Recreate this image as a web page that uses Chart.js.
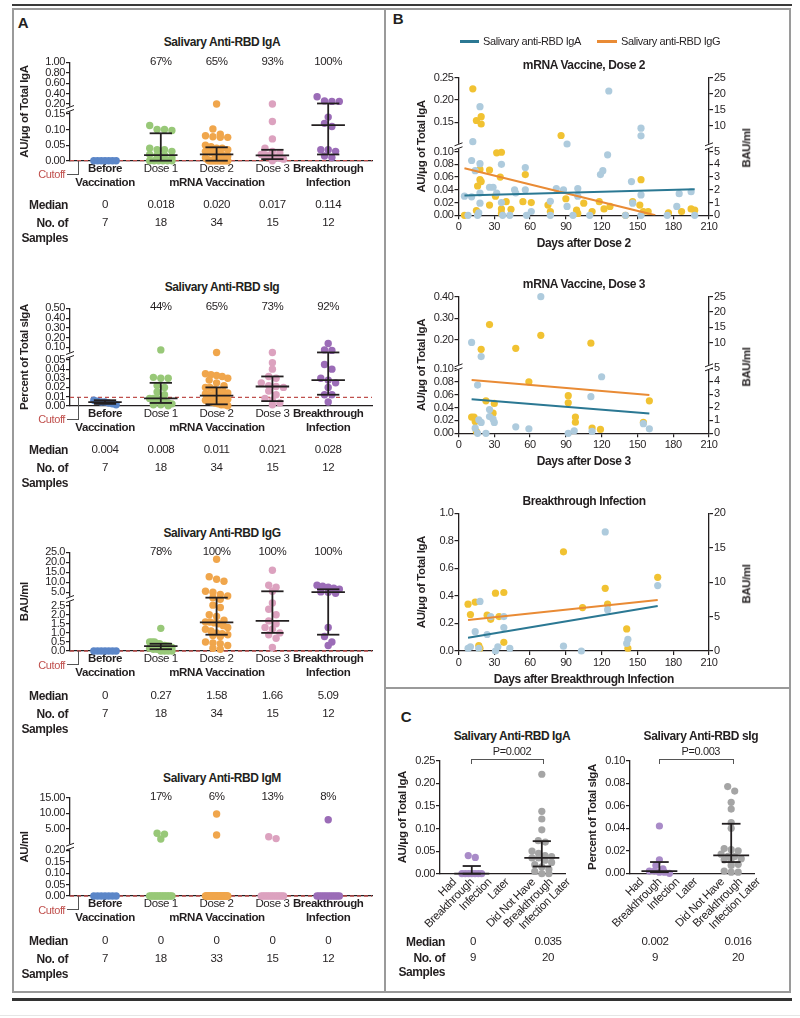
<!DOCTYPE html>
<html>
<head>
<meta charset="utf-8">
<script src="https://cdn.jsdelivr.net/npm/chart.js@4.4.1/dist/chart.umd.min.js"></script>
<style>
  html, body { margin: 0; padding: 0; background: #fff; }
  body { position: relative; width: 800px; height: 1018px; overflow: hidden;
         font-family: 'Liberation Sans Narrow', 'Liberation Sans', Arial, sans-serif; color: #231f20; }
  .lbl { position: absolute; white-space: nowrap; line-height: 1; letter-spacing: -0.4px; }
  .rule { position: absolute; box-sizing: border-box; }
  canvas { position: absolute; }
</style>
</head>
<body>
<script>
// ---------------- Panel A data ----------------
const categoriesA = [['Before', 'Vaccination'], ['Dose 1'], ['Dose 2'], ['Dose 3'], ['Breakthrough', 'Infection']];

const igaValues = [
  [0, 0, 0, 0, 0, 0, 0],
  [0.113, 0.10, 0.10, 0.097, 0.04, 0.035, 0.035, 0.03, 0.02, 0.018, 0.018, 0.01, 0, 0, 0, 0, 0, 0],
  [0.20, 0.102, 0.085, 0.08, 0.077, 0.075, 0.075, 0.05, 0.045, 0.04, 0.04, 0.035, 0.03, 0.03, 0.025, 0.02, 0.02,
   0.02, 0.015, 0.015, 0.01, 0.005, 0, 0, 0, 0, 0, 0, 0, 0, 0, 0, 0, 0],
  [0.20, 0.126, 0.07, 0.04, 0.03, 0.025, 0.02, 0.018, 0.017, 0.015, 0.012, 0.01, 0.008, 0.005, 0],
  [0.34, 0.26, 0.25, 0.25, 0.14, 0.12, 0.11, 0.035, 0.035, 0.03, 0.015, 0.01]
];
const igaMedian = [0, 0.018, 0.020, 0.017, 0.114];
const igaQ1 = [0, 0, 0, 0.005, 0.02];
const igaQ3 = [0, 0.088, 0.043, 0.035, 0.21];
const igaPositive = ['', '67%', '65%', '93%', '100%'];
const igaTicks = [0, 0.05, 0.10, 0.15, 0.20, 0.40, 0.60, 0.80, 1.00];
const igaCutoff = 0;

const sigValues = [
  [0.006, 0.005, 0.004, 0.004, 0.003, 0.002, 0.001],
  [0.09, 0.031, 0.03, 0.03, 0.022, 0.02, 0.015, 0.012, 0.008, 0.008, 0.008, 0.005, 0.004, 0.003, 0.002, 0.001, 0.001, 0],
  [0.08, 0.035, 0.034, 0.033, 0.032, 0.03, 0.028, 0.025, 0.022, 0.02, 0.02, 0.018, 0.016, 0.015, 0.014, 0.013, 0.012,
   0.012, 0.011, 0.011, 0.01, 0.01, 0.009, 0.008, 0.008, 0.007, 0.006, 0.005, 0.004, 0.003, 0.002, 0.001, 0.001, 0],
  [0.08, 0.047, 0.04, 0.032, 0.03, 0.025, 0.022, 0.021, 0.02, 0.016, 0.012, 0.008, 0.006, 0.003, 0.001],
  [0.14, 0.09, 0.088, 0.045, 0.04, 0.03, 0.028, 0.025, 0.02, 0.012, 0.012, 0.004]
];
const sigMedian = [0.004, 0.008, 0.011, 0.021, 0.028];
const sigQ1 = [0.002, 0.003, 0.0015, 0.005, 0.012];
const sigQ3 = [0.006, 0.025, 0.02, 0.032, 0.08];
const sigPositive = ['', '44%', '65%', '73%', '92%'];
const sigTicks = [0, 0.01, 0.02, 0.03, 0.04, 0.05, 0.10, 0.20, 0.30, 0.40, 0.50];
const sigCutoff = 0.009;

const iggValues = [
  [0, 0, 0, 0, 0, 0, 0],
  [1.25, 0.5, 0.5, 0.5, 0.4, 0.4, 0.3, 0.3, 0.28, 0.26, 0.2, 0.15, 0.1, 0.1, 0, 0, 0, 0],
  [21.5, 12.8, 11.5, 10.5, 5.5, 5.0, 4.6, 4.3, 4.0, 3.7, 2.6, 2.4, 2.0, 1.9, 1.7, 1.6, 1.6,
   1.55, 1.5, 1.4, 1.3, 1.2, 1.1, 1.0, 0.95, 0.9, 0.85, 0.8, 0.5, 0.45, 0.4, 0.3, 0.15, 0.1],
  [16, 8.5, 7.5, 5.5, 3.0, 2.3, 2.0, 1.66, 1.5, 1.3, 1.2, 1.0, 0.9, 0.7, 0.2],
  [8.5, 8.0, 7.5, 7.0, 6.5, 5.2, 5.0, 4.8, 1.3, 0.8, 0.5, 0.3]
];
const iggMedian = [0, 0.27, 1.58, 1.66, 5.09];
const iggQ1 = [0, 0.1, 0.9, 1.0, 0.9];
const iggQ3 = [0, 0.4, 4.0, 5.5, 6.5];
const iggPositive = ['', '78%', '100%', '100%', '100%'];
const iggTicks = [0, 0.5, 1.0, 1.5, 2.0, 2.5, 5, 10, 15, 20, 25];
const iggCutoff = 0;

const igmValues = [
  [0, 0, 0, 0, 0, 0, 0],
  [4.0, 3.8, 2.7, 0, 0, 0, 0, 0, 0, 0, 0, 0, 0, 0, 0, 0, 0, 0],
  [9.8, 3.6, 0, 0, 0, 0, 0, 0, 0, 0, 0, 0, 0, 0, 0, 0, 0, 0, 0, 0, 0, 0, 0, 0, 0, 0, 0, 0, 0, 0, 0, 0, 0],
  [3.2, 2.8, 0, 0, 0, 0, 0, 0, 0, 0, 0, 0, 0, 0, 0],
  [7.9, 0, 0, 0, 0, 0, 0, 0, 0, 0, 0, 0]
];
const igmMedian = [0, 0, 0, 0, 0];
const igmQ1 = [0, 0, 0, 0, 0];
const igmQ3 = [0, 0, 0, 0, 0];
const igmPositive = ['', '17%', '6%', '13%', '8%'];
const igmTicks = [0, 0.05, 0.10, 0.15, 0.20, 5, 10, 15];
const igmCutoff = 0;

// ---------------- Panel B data ----------------
const d2IgaDays = [5, 8, 11, 11, 12, 14, 16, 17, 18, 18, 18, 18, 26, 29, 32, 36, 36, 37, 43, 47, 48, 56, 56, 57, 61,
  77, 77, 82, 88, 91, 91, 96, 100, 100, 110, 119, 121, 125, 126, 140, 145, 146, 153, 153, 153, 153, 175, 183, 185, 195, 198];
const d2IgaVals = [0.03, 0, 0.029, 0.086, 0.117, 0.07, 0, 0.004, 0.185, 0.081, 0.035, 0.019, 0.044, 0.044, 0.035, 0.08,
  0.02, 0, 0, 0.04, 0.035, 0.075, 0.04, 0, 0.006, 0.022, 0, 0.042, 0.04, 0.113, 0.014, 0, 0.042, 0.03, 0, 0.064, 0.07,
  0.095, 0.22, 0, 0.053, 0.019, 0.14, 0.127, 0.032, 0, 0, 0.014, 0.034, 0.037, 0];
const d2IggDays = [5, 12, 15, 19, 19, 16, 15, 18, 18, 19, 26, 32, 36, 35, 31, 26, 36, 36, 40, 44, 56, 54, 61, 75, 77,
  86, 90, 99, 100, 105, 112, 118, 122, 127, 140, 146, 152, 153, 155, 159, 176, 187, 195, 198];
const d2IggVals = [0, 21.5, 11.6, 12.8, 10.5, 2.3, 0.37, 3.6, 2.8, 2.65, 3.55, 4.9, 4.95, 3.0, 1.5, 0.8, 0.5, 0.15,
  1.07, 0.47, 3.2, 1.07, 1.0, 0.8, 0.3, 8.1, 1.3, 0.4, 0.15, 0.95, 0.3, 1.07, 0.5, 0.7, 0, 1.07, 0.8, 2.8, 0.3, 0.3,
  0.2, 0.3, 0.5, 0.4];
const d2IgaFitDays = [5, 198], d2IgaFitVals = [0.031, 0.041];
const d2IggFitDays = [5, 165], d2IggFitVals = [3.7, 0];

const d3IgaDays = [11, 19, 16, 14, 16, 17, 19, 23, 26, 26, 29, 30, 48, 59, 69, 92, 97, 111, 112, 120, 155, 160];
const d3IgaVals = [0.192, 0.143, 0.075, 0.008, 0, 0.021, 0.017, 0, 0.037, 0.026, 0.022, 0.017, 0.01, 0.007, 0.40, 0,
  0.004, 0.057, 0.003, 0.088, 0.015, 0.007];
const d3IggDays = [11, 13, 14, 15, 19, 26, 23, 30, 29, 48, 69, 59, 92, 92, 98, 98, 111, 112, 119, 155, 160];
const d3IggVals = [1.25, 1.25, 0.9, 0.13, 8.7, 15.9, 2.5, 2.3, 1.55, 8.9, 12.4, 3.96, 2.9, 2.35, 1.25, 0.85, 9.9, 0.4,
  0.3, 0.85, 2.5];
const d3IgaFitDays = [11, 160], d3IgaFitVals = [0.053, 0.031];
const d3IggFitDays = [11, 160], d3IggFitVals = [4.1, 2.95];

const btIgaDays = [8, 10, 14, 18, 17, 24, 27, 31, 33, 38, 38, 43, 88, 103, 123, 125, 141, 142, 167];
const btIgaVals = [0.02, 0.03, 0.14, 0.36, 0.02, 0.12, 0.25, 0, 0.03, 0.25, 0.17, 0.02, 0.035, 0, 0.865, 0.30, 0.055,
  0.085, 0.475];
const btIggDays = [8, 10, 14, 17, 18, 24, 27, 31, 34, 38, 38, 88, 104, 123, 125, 141, 142, 167];
const btIggVals = [6.8, 5.3, 7.1, 0.8, 0.4, 5.2, 4.6, 8.4, 5.0, 8.5, 1.26, 14.4, 6.3, 9.1, 6.8, 3.2, 0.4, 10.7];
const btIgaFitDays = [8, 167], btIgaFitVals = [0.097, 0.327];
const btIggFitDays = [8, 167], btIggFitVals = [4.5, 7.4];

const dayTicks = [0, 30, 60, 90, 120, 150, 180, 210];

// ---------------- Panel C data ----------------
const cCategories = [['Had', 'Breakthrough', 'Infection', 'Later'], ['Did Not Have', 'Breakthrough', 'Infection Later']];
const c1Had = [0.04, 0.036, 0, 0, 0, 0, 0, 0, 0];
const c1NotHad = [0.22, 0.138, 0.121, 0.097, 0.073, 0.07, 0.05, 0.045, 0.04, 0.038, 0.035, 0.035, 0.03, 0.025, 0.02,
  0.015, 0.01, 0.005, 0, 0];
const c1Median = [0, 0.035], c1Q1 = [0, 0.016], c1Q3 = [0.017, 0.072];
const c1Ticks = [0, 0.05, 0.10, 0.15, 0.20, 0.25];
const c2Had = [0.042, 0.012, 0.007, 0.004, 0.002, 0.002, 0.001, 0.001, 0];
const c2NotHad = [0.077, 0.073, 0.063, 0.057, 0.045, 0.04, 0.022, 0.021, 0.02, 0.017, 0.015, 0.015, 0.013, 0.012,
  0.01, 0.008, 0.007, 0.002, 0.001, 0.001];
const c2Median = [0.002, 0.016], c2Q1 = [0.001, 0.010], c2Q3 = [0.010, 0.044];
const c2Ticks = [0, 0.02, 0.04, 0.06, 0.08, 0.10];

// ---------------- helpers ----------------
const INK = '#231f20';
const FONT = "'Liberation Sans Narrow', 'Liberation Sans', Arial, sans-serif";
const colorsA = ['#5b86c8', '#98c878', '#f0a64c', '#dca2bf', '#9b6cb7'];
const CUT = '#c0504d';
Chart.defaults.font.family = FONT;
Chart.defaults.color = INK;

// tighten canvas text a little (no narrow face installed)
Chart.register({
  id: 'condense',
  beforeLayout(chart) { chart.ctx.letterSpacing = '-0.4px'; },
  beforeDraw(chart) { chart.ctx.letterSpacing = '-0.4px'; }
});

function label(txt, x, y, o = {}) {
  const d = document.createElement('div');
  d.className = 'lbl';
  d.textContent = txt;
  d.style.left = x + 'px';
  d.style.top = y + 'px';
  d.style.fontSize = (o.size || 12) + 'px';
  if (o.bold) d.style.fontWeight = 'bold';
  if (o.color) d.style.color = o.color;
  const tx = o.align === 'right' ? '-100%' : o.align === 'left' ? '0' : '-50%';
  d.style.transform = `translate(${tx}, -50%)` + (o.rotate ? ` rotate(${o.rotate}deg)` : '');
  document.body.appendChild(d);
}

function rule(x, y, w, h, css) {
  const d = document.createElement('div');
  d.className = 'rule';
  d.style.cssText += `left:${x}px;top:${y}px;width:${w}px;height:${h}px;` + css;
  document.body.appendChild(d);
}

// piecewise-linear mapping for the broken axes
function piecewise(knots) {
  return v => {
    for (let i = 1; i < knots.length; i++) {
      const [v0, p0] = knots[i - 1], [v1, p1] = knots[i];
      if (v <= v1 || i === knots.length - 1) return p0 + (v - v0) / (v1 - v0) * (p1 - p0);
    }
  };
}

// simple row-based dot spread (no randomness)
function swarm(vals, center, f, yPx, xPx, maxHalf) {
  const dot = 7.4;
  const ys = vals.map(v => f(v)).sort((a, b) => b - a);
  const rows = [];
  ys.forEach(y => {
    const row = rows[rows.length - 1];
    if (row && (row.top - y) * yPx < dot * 0.75) row.ys.push(y);
    else rows.push({ top: y, ys: [y] });
  });
  const pts = [];
  rows.forEach(row => {
    const n = row.ys.length;
    const step = n > 1 ? Math.min(dot / xPx, 2 * maxHalf / (n - 1)) : 0;
    row.ys.forEach((y, k) => pts.push({ x: center + (k - (n - 1) / 2) * step, y }));
  });
  return pts;
}

function barSets(med, q1, q3, f, halfMed, halfCap) {
  const out = [];
  const seg = (x0, x1, y0, y1) => out.push({
    data: [{ x: x0, y: y0 }, { x: x1, y: y1 }], showLine: true, borderColor: INK, borderWidth: 1.8,
    pointRadius: 0, order: 0, clip: false
  });
  med.forEach((m, i) => {
    if (q3[i] === 0) return;
    seg(i - halfMed, i + halfMed, f(m), f(m));
    seg(i - halfCap, i + halfCap, f(q3[i]), f(q3[i]));
    seg(i - halfCap, i + halfCap, f(q1[i]), f(q1[i]));
    seg(i, i, f(q1[i]), f(q3[i]));
  });
  return out;
}

function makeCanvas(a, m) {
  const left = Math.round(a.l - m.yl), top = Math.round(a.t - m.pt);
  const right = Math.round(a.r + m.yr), bottom = Math.round(a.b + m.xb);
  const c = document.createElement('canvas');
  c.width = right - left; c.height = bottom - top;
  c.style.left = left + 'px'; c.style.top = top + 'px';
  c.style.width = c.width + 'px'; c.style.height = c.height + 'px';
  document.body.appendChild(c);
  return { c, yl: a.l - left, pt: a.t - top, yr: right - a.r, xb: bottom - a.b };
}

const breakMarks = {
  id: 'breakMarks',
  afterDraw(chart, args, opts) {
    if (!opts.marks) return;
    const ctx = chart.ctx;
    opts.marks.forEach(([id, v]) => {
      const s = chart.scales[id];
      const y = s.getPixelForValue(v);
      const x = s.position === 'right' ? s.left : s.right;
      ctx.save();
      ctx.fillStyle = '#fff';
      ctx.fillRect(x - 2, y - 2.5, 4, 5);
      ctx.strokeStyle = INK;
      ctx.lineWidth = 1;
      ctx.beginPath();
      ctx.moveTo(x - 4, y - 0.5); ctx.lineTo(x + 4, y - 3.5);
      ctx.moveTo(x - 4, y + 3.5); ctx.lineTo(x + 4, y + 0.5);
      ctx.stroke();
      ctx.restore();
    });
  }
};

const tickGrid = { display: true, drawOnChartArea: false, drawTicks: true, tickLength: 4, color: INK, lineWidth: 1.2 };
const axisBorder = { display: true, color: INK, width: 1.3 };

// ---------------- frame ----------------
rule(12, 4, 780, 2, 'background:#3a3a3a;');
rule(12, 8, 779, 985, 'border:2px solid #9a9a9a;');
rule(384, 8, 2, 985, 'background:#9a9a9a;');
rule(385, 687, 406, 2, 'background:#9a9a9a;');
rule(12, 998, 780, 2.5, 'background:#333;');
rule(0, 1015, 800, 1, 'background:#e6e6e6;');
label('A', 23, 22, { bold: true, size: 15 });
label('B', 398, 18, { bold: true, size: 15 });
label('C', 406, 716, { bold: true, size: 15 });

// ---------------- Panel A ----------------
const A_X0 = 105, A_UNIT = 55.8;
const catX = i => A_X0 + A_UNIT * i;
const A_XMIN = (70 - A_X0) / A_UNIT, A_XMAX = (372 - A_X0) / A_UNIT;

const panelA = [
  { title: 'Salivary Anti-RBD IgA', yTitle: 'AU/μg of Total IgA', vals: igaValues, med: igaMedian, q1: igaQ1, q3: igaQ3,
    pct: igaPositive, ticks: igaTicks, tickDec: 2, medDec: 3, cutoff: igaCutoff,
    knots: [[0, 0], [0.15, 46.7], [0.20, 56.7], [1.0, 98.3]], zeroY: 160.7, brk: 51.7 },
  { title: 'Salivary Anti-RBD sIg', yTitle: 'Percent of Total sIgA', vals: sigValues, med: sigMedian, q1: sigQ1, q3: sigQ3,
    pct: sigPositive, ticks: sigTicks, tickDec: 2, medDec: 3, cutoff: sigCutoff,
    knots: [[0, 0], [0.05, 45.7], [0.10, 58.3], [0.50, 97.3]], zeroY: 405.7, brk: 50.7 },
  { title: 'Salivary Anti-RBD IgG', yTitle: 'BAU/ml', vals: iggValues, med: iggMedian, q1: iggQ1, q3: iggQ3,
    pct: iggPositive, ticks: iggTicks, tickDec: 1, medDec: 2, cutoff: iggCutoff,
    knots: [[0, 0], [2.5, 45.3], [5, 58.7], [25, 98.7]], zeroY: 651, brk: 52 },
  { title: 'Salivary Anti-RBD IgM', yTitle: 'AU/ml', vals: igmValues, med: igmMedian, q1: igmQ1, q3: igmQ3,
    pct: igmPositive, ticks: igmTicks, tickDec: 2, medDec: 0, cutoff: igmCutoff,
    knots: [[0, 0], [0.2, 45.7], [5, 67.3], [15, 98]], zeroY: 896, brk: 49.3 }
];

panelA.forEach(p => {
  const f = piecewise(p.knots);
  const maxPx = p.knots[p.knots.length - 1][1];
  const z = p.zeroY;
  const g = makeCanvas({ l: 70, r: 372, t: z - maxPx, b: z }, { yl: 52, yr: 10, pt: 10, xb: 40 });

  const datasets = [{
    data: [{ x: A_XMIN, y: f(p.cutoff) }, { x: A_XMAX, y: f(p.cutoff) }], showLine: true, borderColor: CUT,
    borderDash: [4, 3], borderWidth: 1.3, pointRadius: 0, order: 3, clip: false
  }];
  p.vals.forEach((vals, i) => datasets.push({
    data: swarm(vals, i, f, 1, A_UNIT, 0.2), backgroundColor: colorsA[i], borderWidth: 0,
    pointRadius: 3.7, order: 2, clip: false
  }));
  datasets.push(...barSets(p.med, p.q1, p.q3, f, 0.3, 0.2));

  new Chart(g.c, {
    type: 'scatter',
    data: { datasets },
    options: {
      responsive: false, animation: false, events: [],
      layout: { padding: { top: g.pt, right: g.yr, left: 0, bottom: 0 } },
      plugins: { legend: { display: false }, tooltip: { enabled: false }, breakMarks: { marks: [['y', p.brk]] } },
      scales: {
        x: {
          type: 'linear', min: A_XMIN, max: A_XMAX, bounds: 'data',
          afterBuildTicks: s => { s.ticks = categoriesA.map((c, i) => ({ value: i })); },
          afterFit: s => { s.height = g.xb; },
          grid: { display: false, drawTicks: false }, border: axisBorder,
          ticks: {
            padding: 1, autoSkip: false, maxRotation: 0, color: INK,
            callback: (v, i) => categoriesA[i],
            font: ctx => ({ size: 11.5, weight: (ctx.index === 0 || ctx.index === 4) ? 'bold' : 'normal', lineHeight: 1.22 })
          }
        },
        y: {
          type: 'linear', min: 0, max: maxPx, bounds: 'data',
          afterBuildTicks: s => { s.ticks = p.ticks.map(v => ({ value: f(v) })); },
          afterFit: s => { s.width = g.yl; },
          grid: tickGrid, border: axisBorder,
          ticks: { padding: 1, autoSkip: false, color: INK, font: { size: 11 },
                   callback: (v, i) => p.ticks[i].toFixed(p.tickDec) },
          title: { display: true, text: p.yTitle, font: { size: 11.5, weight: 'bold' }, padding: { top: 0, bottom: 0 } }
        }
      }
    },
    plugins: [breakMarks]
  });

  label(p.title, 222, z - 118.5, { bold: true, size: 12 });
  p.pct.forEach((t, i) => { if (t) label(t, catX(i), z - 99, { size: 11.5 }); });
  label('mRNA Vaccination', 217, z + 22.3, { bold: true, size: 11.5 });
  const cy = z - f(p.cutoff);
  label('Cutoff', 65, z + 13.5, { align: 'right', color: CUT, size: 11 });
  rule(67, cy, 11.5, z + 14 - cy, 'border-right:1px solid #555;border-bottom:1px solid #555;');
  label('Median', 68, z + 44.7, { align: 'right', bold: true, size: 12 });
  label('No. of', 68, z + 62.7, { align: 'right', bold: true, size: 12 });
  label('Samples', 68, z + 77.5, { align: 'right', bold: true, size: 12 });
  p.med.forEach((m, i) => label(m === 0 ? '0' : m.toFixed(p.medDec), catX(i), z + 44.7, { size: 11.5 }));
  p.vals.forEach((v, i) => label(String(v.length), catX(i), z + 62.7, { size: 11.5 }));
});

// ---------------- Panel B ----------------
const IGA_PT = '#aecbdd', IGG_PT = '#f1c232', IGA_LINE = '#2b7893', IGG_LINE = '#e98b35';

rule(460, 40, 19, 2.5, `background:${IGA_LINE};`);
label('Salivary anti-RBD IgA', 483, 41, { align: 'left', size: 11 });
rule(597, 40, 20, 2.5, `background:${IGG_LINE};`);
label('Salivary anti-RBD IgG', 621, 41, { align: 'left', size: 11 });

const panelB = [
  { title: 'mRNA Vaccine, Dose 2', xTitle: 'Days after Dose 2', t: 77.6, b: 215.3,
    leftKnots: [[0, 0], [0.10, 63.7], [0.15, 93], [0.25, 137.7]], rightKnots: [[0, 0], [5, 63.7], [10, 89.7], [25, 137.7]],
    leftTicks: [0, 0.02, 0.04, 0.06, 0.08, 0.10, 0.15, 0.20, 0.25], leftDec: 2, rightTicks: [0, 1, 2, 3, 4, 5, 10, 15, 20, 25],
    igaDays: d2IgaDays, igaVals: d2IgaVals, iggDays: d2IggDays, iggVals: d2IggVals,
    igaFitDays: d2IgaFitDays, igaFitVals: d2IgaFitVals, iggFitDays: d2IggFitDays, iggFitVals: d2IggFitVals, brk: 69 },
  { title: 'mRNA Vaccine, Dose 3', xTitle: 'Days after Dose 3', t: 296.7, b: 433.3,
    leftKnots: [[0, 0], [0.10, 64.3], [0.20, 93.3], [0.40, 136.7]], rightKnots: [[0, 0], [5, 65], [10, 90.7], [25, 136.7]],
    leftTicks: [0, 0.02, 0.04, 0.06, 0.08, 0.10, 0.20, 0.30, 0.40], leftDec: 2, rightTicks: [0, 1, 2, 3, 4, 5, 10, 15, 20, 25],
    igaDays: d3IgaDays, igaVals: d3IgaVals, iggDays: d3IggDays, iggVals: d3IggVals,
    igaFitDays: d3IgaFitDays, igaFitVals: d3IgaFitVals, iggFitDays: d3IggFitDays, iggFitVals: d3IggFitVals, brk: 66 },
  { title: 'Breakthrough Infection', xTitle: 'Days after Breakthrough Infection', t: 513.3, b: 651,
    leftKnots: [[0, 0], [1.0, 137.7]], rightKnots: [[0, 0], [20, 137.7]],
    leftTicks: [0, 0.2, 0.4, 0.6, 0.8, 1.0], leftDec: 1, rightTicks: [0, 5, 10, 15, 20],
    igaDays: btIgaDays, igaVals: btIgaVals, iggDays: btIggDays, iggVals: btIggVals,
    igaFitDays: btIgaFitDays, igaFitVals: btIgaFitVals, iggFitDays: btIggFitDays, iggFitVals: btIggFitVals, brk: null }
];

panelB.forEach(p => {
  const fl = piecewise(p.leftKnots), fr = piecewise(p.rightKnots);
  const maxPx = p.leftKnots[p.leftKnots.length - 1][1];
  const g = makeCanvas({ l: 458.5, r: 709, t: p.t, b: p.b }, { yl: 44, yr: 46, pt: 8, xb: 36 });
  const pts = (days, vals, f) => days.map((d, i) => ({ x: d, y: f(vals[i]) }));

  new Chart(g.c, {
    type: 'scatter',
    data: {
      datasets: [
        { data: pts(p.igaFitDays, p.igaFitVals, fl), yAxisID: 'y', showLine: true, borderColor: IGA_LINE, borderWidth: 2,
          pointRadius: 0, order: 0 },
        { data: pts(p.iggFitDays, p.iggFitVals, fr), yAxisID: 'y2', showLine: true, borderColor: IGG_LINE, borderWidth: 2,
          pointRadius: 0, order: 0 },
        { data: pts(p.iggDays, p.iggVals, fr), yAxisID: 'y2', backgroundColor: IGG_PT, borderWidth: 0, pointRadius: 3.6,
          order: 2, clip: false },
        { data: pts(p.igaDays, p.igaVals, fl), yAxisID: 'y', backgroundColor: IGA_PT, borderWidth: 0, pointRadius: 3.6,
          order: 1, clip: false }
      ]
    },
    options: {
      responsive: false, animation: false, events: [],
      layout: { padding: { top: g.pt, right: 0, left: 0, bottom: 0 } },
      plugins: { legend: { display: false }, tooltip: { enabled: false },
                 breakMarks: { marks: p.brk ? [['y', p.brk], ['y2', p.brk]] : [] } },
      scales: {
        x: {
          type: 'linear', min: 0, max: 210, bounds: 'data',
          afterBuildTicks: s => { s.ticks = dayTicks.map(v => ({ value: v })); },
          afterFit: s => { s.height = g.xb; },
          grid: tickGrid, border: axisBorder,
          ticks: { padding: 1, autoSkip: false, maxRotation: 0, color: INK, font: { size: 11 } },
          title: { display: true, text: p.xTitle, font: { size: 12, weight: 'bold' }, padding: { top: 0, bottom: 0 } }
        },
        y: {
          type: 'linear', position: 'left', min: 0, max: maxPx, bounds: 'data',
          afterBuildTicks: s => { s.ticks = p.leftTicks.map(v => ({ value: fl(v) })); },
          afterFit: s => { s.width = g.yl; },
          grid: tickGrid, border: axisBorder,
          ticks: { padding: 1, autoSkip: false, color: INK, font: { size: 11 },
                   callback: (v, i) => p.leftTicks[i].toFixed(p.leftDec) },
          title: { display: true, text: 'AU/μg of Total IgA', font: { size: 11.5, weight: 'bold' }, padding: { top: 0, bottom: 0 } }
        },
        y2: {
          type: 'linear', position: 'right', min: 0, max: maxPx, bounds: 'data',
          afterBuildTicks: s => { s.ticks = p.rightTicks.map(v => ({ value: fr(v) })); },
          afterFit: s => { s.width = g.yr; },
          grid: tickGrid, border: axisBorder,
          ticks: { padding: 1, autoSkip: false, color: INK, font: { size: 11 },
                   callback: (v, i) => String(p.rightTicks[i]) }
        }
      }
    },
    plugins: [breakMarks]
  });

  label(p.title, 584, p.t - 12.5, { bold: true, size: 12 });
  label('BAU/ml', 747, (p.t + p.b) / 2 + 2, { bold: true, size: 11.5, rotate: -90 });
});

// ---------------- Panel C ----------------
const panelC = [
  { title: 'Salivary Anti-RBD IgA', yTitle: 'AU/μg of Total IgA', p: 'P=0.002', l: 440, r: 571.7, b: 873.7,
    x0: 473.3, unit: 73.4, vals: [c1Had, c1NotHad], med: c1Median, q1: c1Q1, q3: c1Q3, ticks: c1Ticks, max: 0.25,
    medX: [473, 548], showMedianLabel: true },
  { title: 'Salivary Anti-RBD sIg', yTitle: 'Percent of Total sIgA', p: 'P=0.003', l: 630, r: 761.7, b: 873.3,
    x0: 661, unit: 75.7, vals: [c2Had, c2NotHad], med: c2Median, q1: c2Q1, q3: c2Q3, ticks: c2Ticks, max: 0.10,
    medX: [655, 738], showMedianLabel: false }
];
const cColors = ['#a98bc8', '#a5a5a5'];
const cTickPos = [], cTickText = [];
cCategories.forEach((lines, i) => lines.forEach((t, k) => {
  cTickPos.push(i + (k - (lines.length - 1) / 2) * 0.25 + 0.13);
  cTickText.push(t);
}));

panelC.forEach(p => {
  const t = 760.7;
  const f = v => v;
  const yPx = (p.b - t) / p.max;
  const xmin = (p.l - p.x0) / p.unit, xmax = (p.r - p.x0) / p.unit;
  const g = makeCanvas({ l: p.l, r: p.r, t, b: p.b }, { yl: 44.2, yr: 8, pt: 8, xb: 62 });
  const datasets = p.vals.map((vals, i) => ({
    data: swarm(vals, i, f, yPx, p.unit, 0.14), backgroundColor: cColors[i], borderWidth: 0,
    pointRadius: 3.6, order: 2, clip: false
  }));
  datasets.push(...barSets(p.med, p.q1, p.q3, f, 0.25, 0.13));

  new Chart(g.c, {
    type: 'scatter',
    data: { datasets },
    options: {
      responsive: false, animation: false, events: [],
      layout: { padding: { top: g.pt, right: g.yr, left: 0, bottom: 0 } },
      plugins: { legend: { display: false }, tooltip: { enabled: false } },
      scales: {
        x: {
          type: 'linear', min: xmin, max: xmax, bounds: 'data',
          afterBuildTicks: s => { s.ticks = cTickPos.map(v => ({ value: v })); },
          afterFit: s => { s.height = g.xb; },
          grid: { display: false, drawTicks: false }, border: axisBorder,
          ticks: { padding: 2, autoSkip: false, minRotation: 45, maxRotation: 45, color: INK,
                   font: { size: 11.5 }, callback: (v, i) => cTickText[i] }
        },
        y: {
          type: 'linear', min: 0, max: p.max, bounds: 'data',
          afterBuildTicks: s => { s.ticks = p.ticks.map(v => ({ value: v })); },
          afterFit: s => { s.width = g.yl; },
          grid: tickGrid, border: axisBorder,
          ticks: { padding: 1, autoSkip: false, color: INK, font: { size: 11 },
                   callback: (v, i) => p.ticks[i].toFixed(2) },
          title: { display: true, text: p.yTitle, font: { size: 11.5, weight: 'bold' }, padding: { top: 0, bottom: 0 } }
        }
      }
    }
  });

  const cx0 = p.x0, cx1 = p.x0 + p.unit;
  const mid = (cx0 + cx1) / 2 + 2;
  label(p.title, mid, 736, { bold: true, size: 12 });
  label(p.p, mid, 750.7, { size: 11 });
  rule(cx0 - 2, 759, cx1 - cx0 - 1, 5, 'border:1px solid #555;border-bottom:none;');
  if (p.showMedianLabel) {
    label('Median', 445, 941.7, { align: 'right', bold: true, size: 12 });
    label('No. of', 445, 958, { align: 'right', bold: true, size: 12 });
    label('Samples', 445, 972, { align: 'right', bold: true, size: 12 });
  }
  p.med.forEach((m, i) => label(m === 0 ? '0' : m.toFixed(3), p.medX[i], 941.7, { size: 11.5 }));
  p.vals.forEach((v, i) => label(String(v.length), p.medX[i], 958, { size: 11.5 }));
});
</script>
</body>
</html>
